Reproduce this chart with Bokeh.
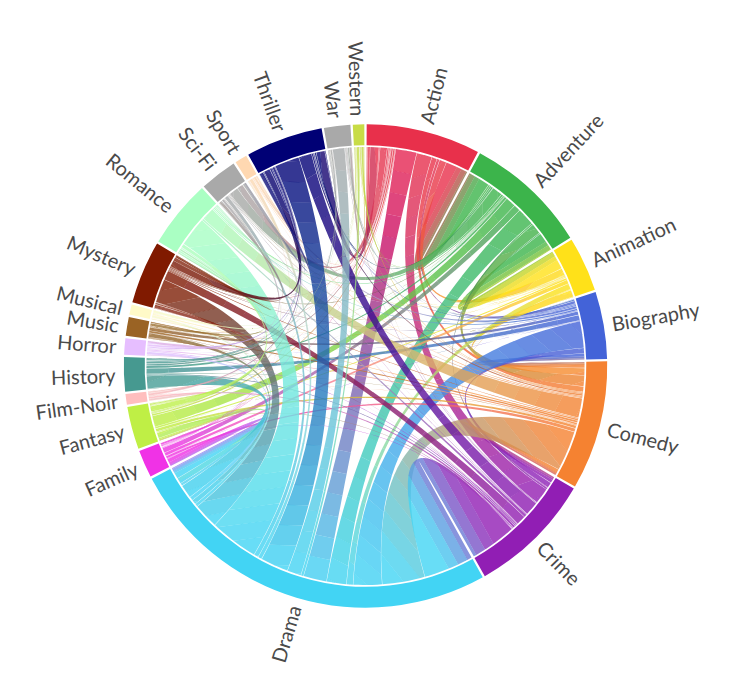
import numpy as np
from bokeh.plotting import figure, ColumnDataSource
from bokeh.models import Range1d
from bokeh.core.properties import value
from bokeh.embed import file_html
from bokeh.resources import INLINE

genres = ["Action","Adventure","Animation","Biography","Comedy","Crime","Drama","Family","Fantasy",
          "Film-Noir","History","Horror","Music","Musical","Mystery","Romance","Sci-Fi","Sport",
          "Thriller","War","Western"]
colors = ["#e8304b","#3cb44b","#ffe119","#4363d8","#f58231","#911eb4","#42d4f4","#f032e6","#bfef45",
          "#ffbebe","#469990","#e6beff","#9a6324","#fffac8","#801a00","#aaffc3","#a9a9a9","#ffd8b1",
          "#000075","#a9a9a9","#c8dc46"]
# size of each genre, read from the outer ring
totals = [28,30.2,13.7,16.7,31.6,30.5,91.8,7.2,10.8,3.1,8.8,4.5,5.1,3,15.7,17,9.5,3.5,19.1,6.9,3.3]
# links to every later genre (upper triangle)
action    = [6.5,2,.8,1.5,4.4,6,.2,.5,.05,.5,.2,.1,.05,.3,.5,2,.3,2.5,.7,.3]
adventure = [5.5,.4,3,.5,5.1,2,3,.05,.7,.1,.1,.1,.3,.6,3,.1,.5,.5,.5]
animation = [.1,2,.2,1.7,1.2,.5,.02,.02,.05,.1,.1,.1,.1,.3,.05,.1,.05,.05]
biography = [1.7,1.5,7.4,.1,.05,.05,1.5,.05,1,.05,.2,.5,.05,.7,.3,.3,.1]
comedy    = [1.8,11,1,.8,.1,.2,.5,.6,.5,.3,5.4,.3,.3,.5,.3,.3]
crime     = [12.9,.2,.3,.7,.4,.4,.1,.05,2.6,.8,.2,.1,3.8,.2,.1]
drama     = [3,1.5,.7,3.5,1,1.2,.8,6.5,12.5,1.2,1,7.2,3.6,.7]
family    = [.8,.02,.05,.05,.2,.2,.05,.1,.1,.1,.05,.05,.05]
fantasy   = [.02,.1,.4,.1,.1,.1,1.5,.3,.02,.2,.1,.02]
filmnoir  = [.02,.02,.02,.02,.4,.2,.02,.02,.7,.02,.02]
history   = [.02,.1,.02,.1,.4,.02,.1,.3,.5,.1]
horror    = [.02,.02,1,.1,.8,.02,.5,.02,.02]
music     = [.4,.05,.8,.02,.02,.05,.02,.02]
musical   = [.02,.8,.02,.02,.02,.02,.02]
mystery   = [.7,1,.02,1.8,.1,.02]
romance   = [.2,.2,.3,.3,.1]
scifi     = [.02,1.2,.05,.05]
sport     = [.05,.05,.02]
thriller  = [.2,.1]
war       = [.1]
rows = [action,adventure,animation,biography,comedy,crime,drama,family,fantasy,filmnoir,history,
        horror,music,musical,mystery,romance,scifi,sport,thriller,war]
# the Action-Drama ribbon runs through magenta and violet
action_drama_stops = [0, .2, .45, .75, 1]
action_drama_cols = [(232, 40, 80), (205, 15, 100), (142, 67, 155), (100, 150, 210), (66, 212, 244)]

R_OUT, R_IN, R_RIB, R_LAB = 241.7, 220.8, 219.0, 250.0
GROUP_PAD, SUB_PAD = 0.28, 0.05
OPACITY = 0.8
OVERLAP_PX = 0.15

n = len(genres)
M = np.zeros((n, n))
for i, r in enumerate(rows):
    for k, v in enumerate(r):
        M[i, i + 1 + k] = M[i + 1 + k, i] = v

scale = 360.0 / sum(totals)
sizes = np.array(totals) * scale
starts = np.concatenate([[0], np.cumsum(sizes)[:-1]])
ends = starts + sizes

# subgroup spans: clockwise along a genre, partners run i-1, i-2, ... i+1
span = {}
for i in range(n):
    a = starts[i] + GROUP_PAD
    usable = sizes[i] - 2 * GROUP_PAD
    tot = M[i].sum()
    for d in range(1, n):
        j = (i - d) % n
        w = usable * M[i, j] / tot
        pad = min(SUB_PAD, 0.2 * w)
        span[(i, j)] = (a + pad, a + w - pad)
        a += w


def pt(theta, r=R_RIB):
    t = np.radians(theta)
    return np.array([r * np.sin(t), r * np.cos(t)])


def arc(t0, t1):
    k = max(2, int(abs(t1 - t0) / 1.5) + 2)
    return [pt(t) for t in np.linspace(t0, t1, k)]


def bez(p0, p1, k=36):
    return [(1 - u) ** 2 * p0 + u ** 2 * p1 for u in np.linspace(0, 1, k)[1:-1]]


def clip(poly, ax, o, lo, hi):
    def half(P, sign, lim):
        out = []
        m = len(P)
        if m == 0:
            return out
        d = [sign * (np.dot(q - o, ax) - lim) for q in P]
        for q in range(m):
            c, nx = P[q], P[(q + 1) % m]
            dc, dn = d[q], d[(q + 1) % m]
            if dc >= 0:
                out.append(c)
            if dc * dn < 0:
                out.append(c + (nx - c) * dc / (dc - dn))
        return out
    return half(half(poly, 1, lo), -1, hi)


def rgb(h):
    return np.array([int(h[k:k + 2], 16) for k in (1, 3, 5)], float)


xs, ys, fills = [], [], []
for i in range(n):
    for j in range(i + 1, n):
        a0, a1 = span[(i, j)]
        t0, t1 = span[(j, i)]
        poly = arc(a0, a1) + bez(pt(a1), pt(t0)) + arc(t0, t1) + bez(pt(t1), pt(a0))
        s = pt((a0 + a1) / 2)
        e = pt((t0 + t1) / 2)
        L = np.linalg.norm(e - s)
        ax = (e - s) / L ** 2  # projection gives 0..1 between ribbon ends
        N = int(np.clip(L / 14, 5, 20))
        if M[i, j] < 0.15:
            N = min(N, 6)
        edges = [-50] + list(np.linspace(0, 1, N + 1)) + [50]
        c0, c1 = rgb(colors[i]), rgb(colors[j])
        ov = OVERLAP_PX / L
        for lo, hi in zip(edges[:-1], edges[1:]):
            part = clip(poly, ax, s, lo, hi + ov)
            if len(part) < 3:
                continue
            u = np.clip((lo + hi) / 2, 0, 1)
            if (i, j) == (genres.index("Action"), genres.index("Drama")):
                c = [np.interp(u, action_drama_stops, [q[k] for q in action_drama_cols]) for k in range(3)]
            else:
                c = c0 + (c1 - c0) * u
            xs.append([float(q[0]) for q in part])
            ys.append([float(q[1]) for q in part])
            fills.append("#%02x%02x%02x" % tuple(int(round(v)) for v in c))

p = figure(width=714, height=684, output_backend="svg", toolbar_location=None,
           x_range=Range1d(-365, 714 - 365), y_range=Range1d(365.5 - 684, 365.5),
           min_border=0)
p.axis.visible = False
p.grid.visible = False
p.outline_line_color = None
p.background_fill_color = "white"

p.patches("xs", "ys", source=ColumnDataSource(dict(xs=xs, ys=ys, c=fills)),
          fill_color="c", fill_alpha=OPACITY, line_color=None)

ring = ColumnDataSource(dict(
    start=np.radians(90 - (ends - GROUP_PAD)),
    end=np.radians(90 - (starts + GROUP_PAD)),
    c=colors))
p.annular_wedge(x=0, y=0, inner_radius=R_IN, outer_radius=R_OUT, start_angle="start",
                end_angle="end", source=ring, fill_color="c", line_color=None)

mids = (starts + ends) / 2
right = mids < 180
labels = ColumnDataSource(dict(
    x=R_LAB * np.sin(np.radians(mids)),
    y=R_LAB * np.cos(np.radians(mids)),
    t=genres,
    a=np.radians(np.where(right, 90 - mids, 270 - mids)),
    al=["left" if r else "right" for r in right]))
p.text("x", "y", text="t", angle="a", text_align="al", text_baseline="middle", source=labels,
       text_font=value("Lato"), text_font_size=value("20px"), text_color="#4a4a4a")

open("out.html", "w").write(file_html(p, INLINE))
